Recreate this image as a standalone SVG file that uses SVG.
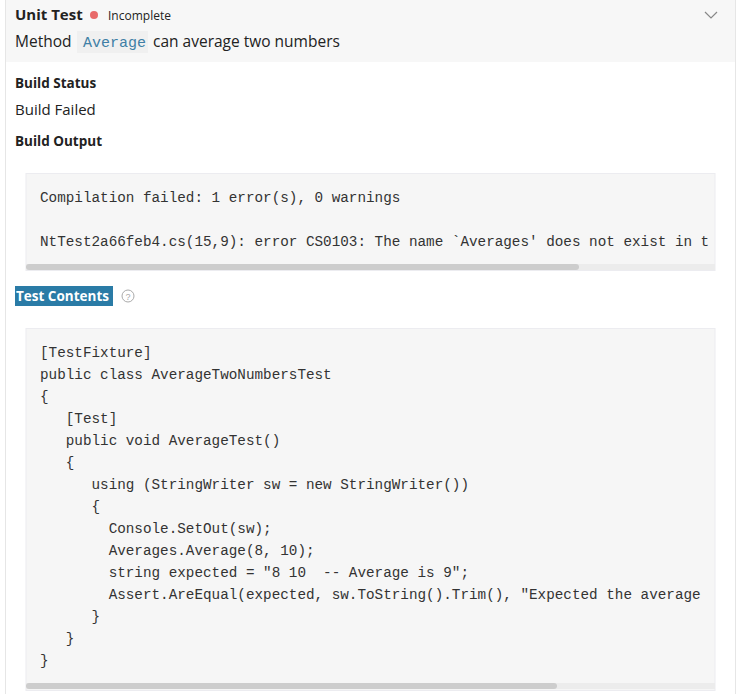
<svg xmlns="http://www.w3.org/2000/svg" width="741" height="694" viewBox="0 0 741 694">
<style>
.s{font-family:"Open Sans","Liberation Sans",sans-serif;fill:#222}
.b{font-family:"Open Sans","Liberation Sans",sans-serif;font-weight:bold;font-size:13.5px;fill:#222}
.m{font-family:"Liberation Mono","DejaVu Sans Mono",monospace;font-size:14.3px;fill:#333;white-space:pre}
</style>
<rect width="741" height="694" fill="#fff"/>
<line x1="5.5" y1="0" x2="5.5" y2="694" stroke="#e6e6e6"/>
<line x1="735.5" y1="0" x2="735.5" y2="694" stroke="#e6e6e6"/>
<g id="header">
<rect x="6" y="0" width="729" height="62" fill="#f7f7f7"/>
<text x="15" y="20" class="s" font-size="15" font-weight="bold">Unit Test</text>
<circle cx="94" cy="15" r="4" fill="#e86a6a"/>
<text x="108" y="20" class="s" font-size="12" fill="#444">Incomplete</text>
<text x="15" y="47" class="s" font-size="15.5">Method</text>
<rect x="77" y="31" width="71" height="22" fill="#f0f0f0"/>
<text x="83" y="47" font-family="Liberation Mono,monospace" font-size="15" fill="#3f7fa6">Average</text>
<text x="153" y="47" class="s" font-size="15.5">can average two numbers</text>
<path d="M705 12 L711 18 L717 12" fill="none" stroke="#888" stroke-width="1.2"/>
</g>
<g id="build-status">
<text x="15" y="88" class="b">Build Status</text>
<text x="15" y="115" class="s" font-size="15">Build Failed</text>
<text x="15" y="146" class="b">Build Output</text>
</g>
<g id="build-output">
<rect x="26" y="173.5" width="689" height="97" fill="#f6f6f6" stroke="#ececf0"/>
<text x="40" y="202" class="m">Compilation failed: 1 error(s), 0 warnings</text>
<text x="40" y="246" class="m">NtTest2a66feb4.cs(15,9): error CS0103: The name `Averages' does not exist in t</text>
<rect x="26" y="264" width="689" height="6" fill="#ececec"/>
<rect x="26" y="264" width="553" height="6" rx="3" fill="#cdcdcd"/>
</g>
<g id="test-contents-label">
<rect x="15" y="286" width="98" height="20" fill="#2a7ba6"/>
<text x="16" y="301" class="b" fill="#fff" style="fill:#fff">Test Contents</text>
<circle cx="128" cy="296" r="6" fill="none" stroke="#aaa"/>
<text x="128" y="300" font-family="Liberation Sans,sans-serif" font-size="9" fill="#aaa" text-anchor="middle">?</text>
</g>
<g id="test-code">
<rect x="26" y="328.5" width="689" height="362" fill="#f6f6f6" stroke="#ececf0"/>
<text class="m"><tspan x="40" y="357">[TestFixture]</tspan><tspan x="40" y="379">public class AverageTwoNumbersTest</tspan><tspan x="40" y="401">{</tspan><tspan x="40" y="423">   [Test]</tspan><tspan x="40" y="445">   public void AverageTest()</tspan><tspan x="40" y="467">   {</tspan><tspan x="40" y="489">      using (StringWriter sw = new StringWriter())</tspan><tspan x="40" y="511">      {</tspan><tspan x="40" y="533">        Console.SetOut(sw);</tspan><tspan x="40" y="555">        Averages.Average(8, 10);</tspan><tspan x="40" y="577">        string expected = "8 10  -- Average is 9";</tspan><tspan x="40" y="599">        Assert.AreEqual(expected, sw.ToString().Trim(), "Expected the average </tspan><tspan x="40" y="621">      }</tspan><tspan x="40" y="643">   }</tspan><tspan x="40" y="665">}</tspan></text>
<rect x="26" y="683" width="689" height="6" fill="#ececec"/>
<rect x="26" y="683" width="531" height="6" rx="3" fill="#cdcdcd"/>
</g>
</svg>
